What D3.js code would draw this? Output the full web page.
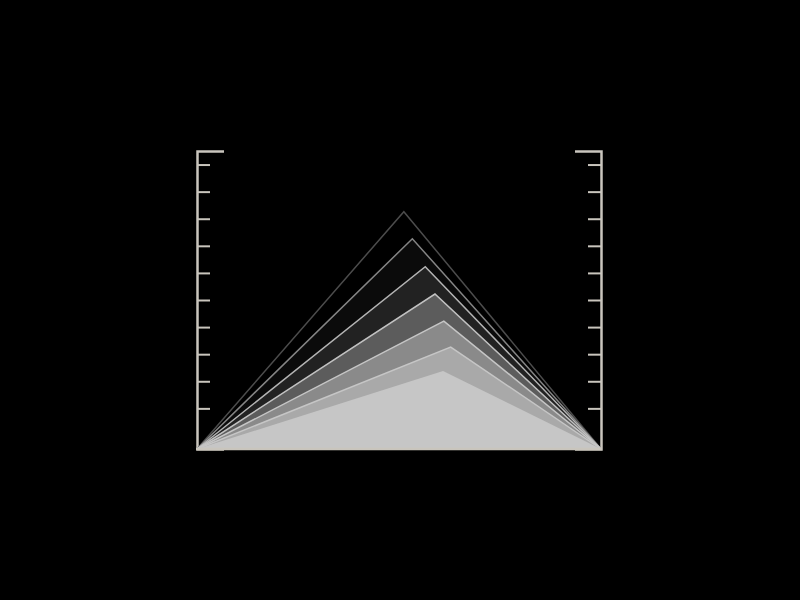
<!DOCTYPE html>
<html>
<head>
<meta charset="utf-8">
<script src="https://cdn.jsdelivr.net/npm/d3@7"></script>
<style>
  html, body { margin: 0; padding: 0; background: #000; }
</style>
</head>
<body>
<div id="root"></div>
<script>
const width = 800;
const height = 600;

// Data: one triangular layer per entry, outermost first

const layers = ['L1', 'L2', 'L3', 'L4', 'L5', 'L6', 'L7'];
const peakX = [51.2, 53.3, 56.5, 58.9, 61.1, 62.8, 60.9];
const peakY = [87.6, 77.6, 67.3, 57.2, 47.2, 37.6, 28.8];
const tickValues = [15, 25, 35, 45, 55, 65, 75, 85, 95, 105];

// Grey ramp

const fills = ['#000000', '#0b0b0b', '#222222', '#5c5c5c', '#8a8a8a', '#a9a9a9', '#c6c6c6'];
const strokes = ['#4c4c4c', '#858585', '#b4b4b4', '#c2c2c2', '#c6c6c6', '#c6c6c6', 'none'];
const axisColor = '#c9c5bd';

const x = d3.scaleLinear().domain([0, 100]).range([197, 601]);
const y = d3.scaleLinear().domain([0, 110]).range([449, 151]);

const svg = d3
  .select('#root')
  .append('svg')
  .attr('width', width)
  .attr('height', height)
  .style('display', 'block')
  .style('background', '#000');

// Axes (ticks point inward)

const leftAxis = d3.axisRight(y).tickValues(tickValues).tickSize(13).tickSizeOuter(27).tickFormat('');
const rightAxis = d3.axisLeft(y).tickValues(tickValues).tickSize(13).tickSizeOuter(26).tickFormat('');

function styleAxis(g) {
  g.selectAll('path, line').attr('stroke', axisColor).attr('stroke-width', 2);
  g.select('.domain').attr('stroke-width', 2.5);
}

svg.append('g').attr('transform', 'translate(197,0)').call(leftAxis).call(styleAxis);
svg.append('g').attr('transform', 'translate(601,0)').call(rightAxis).call(styleAxis);

// Layers

const area = d3
  .area()
  .x((d) => x(d[0]))
  .y0(y(0))
  .y1((d) => y(d[1]));

const line = d3
  .line()
  .x((d) => x(d[0]))
  .y((d) => y(d[1]));

const layerData = layers.map((name, i) => ({
  name,
  points: [[0, 0], [peakX[i], peakY[i]], [100, 0]],
  fill: fills[i],
  stroke: strokes[i],
}));

const layer = svg.append('g').selectAll('g').data(layerData).join('g');

layer
  .append('path')
  .attr('d', (d) => area(d.points))
  .attr('fill', (d) => d.fill);

layer
  .append('path')
  .attr('d', (d) => line(d.points))
  .attr('fill', 'none')
  .attr('stroke', (d) => d.stroke)
  .attr('stroke-width', 1.5);

// Baseline

svg
  .append('line')
  .attr('x1', x(0) - 1)
  .attr('x2', x(100) + 1)
  .attr('y1', y(0))
  .attr('y2', y(0))
  .attr('stroke', axisColor)
  .attr('stroke-width', 2.5);
</script>
</body>
</html>
